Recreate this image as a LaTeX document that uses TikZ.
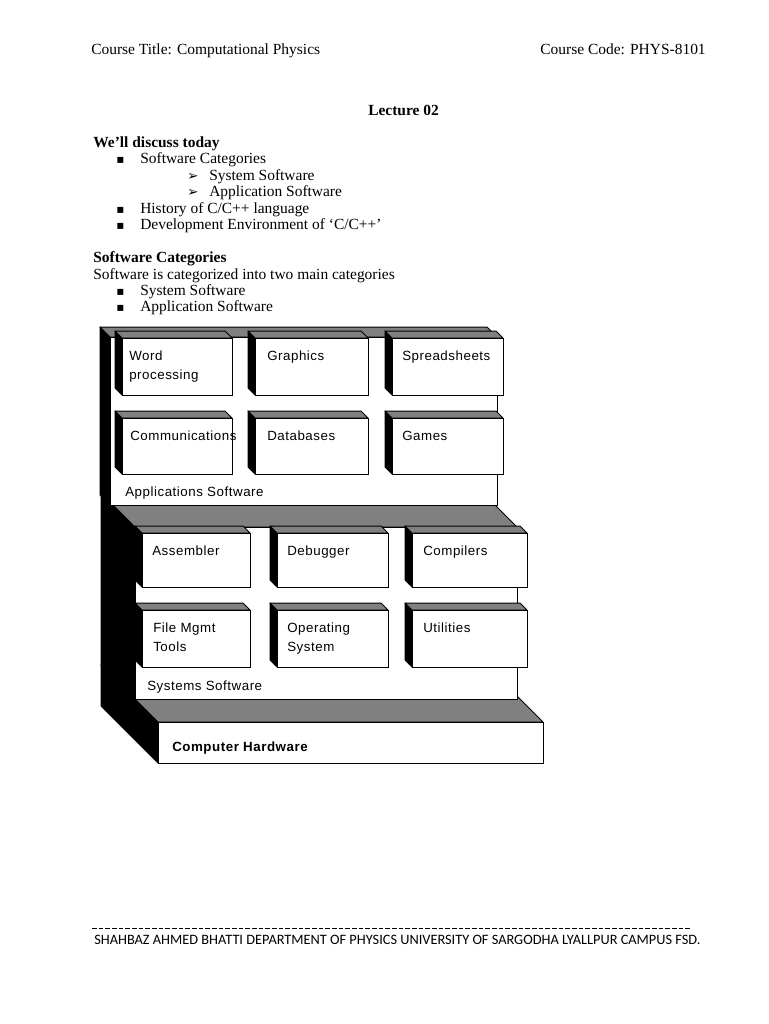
\documentclass[tikz,border=0pt]{standalone}
\usepackage{fontspec}
\setmainfont{Liberation Serif}
\newfontfamily\diagfont{Liberation Sans}[LetterSpace=4]
\newfontfamily\footfont{Carlito}
\newfontfamily\symfont{DejaVu Sans}
\usetikzlibrary{positioning}
\tikzset{
  body/.style={anchor=base west,inner sep=0pt,font=\fontsize{11.6}{14}\selectfont},
  head/.style={body,font=\fontsize{11.6}{14}\selectfont\bfseries},
  sqbul/.style={anchor=base west,inner sep=0pt,font=\symfont\fontsize{9}{9}\selectfont},
  arbul/.style={anchor=base west,inner sep=0pt,font=\symfont\fontsize{10}{10}\selectfont},
  sideface/.style={fill=black,draw=black,line width=0.75pt,line join=round},
  topface/.style={fill=black!50,draw=black,line width=0.75pt,line join=round},
  frontface/.style={fill=white,draw=black,line width=0.75pt},
  boxlbl/.style={anchor=north west,inner sep=0pt,align=left,
    font=\diagfont\fontsize{10}{14}\selectfont},
  layerlbl/.style={anchor=west,inner sep=0pt,font=\diagfont\fontsize{10}{12}\selectfont},
  footln/.style={line width=0.6pt,dash pattern=on 3.5pt off 1.5pt},
}
% 3d block: front face (#1,#2)-(#3,#4), depth #5 towards the upper left
\newcommand{\layerbox}[5]{%
  \filldraw[sideface] (#1,#2) -- (#1,#4) -- ({#1-#5},{#4-#5}) -- ({#1-#5},{#2-#5}) -- cycle;
  \filldraw[topface] (#1,#2) -- (#3,#2) -- ({#3-#5},{#2-#5}) -- ({#1-#5},{#2-#5}) -- cycle;
  \filldraw[frontface] (#1,#2) rectangle (#3,#4);
}

\begin{document}
\begin{tikzpicture}[x=0.75pt,y=-0.75pt]
  \useasboundingbox (0,0) rectangle (768,1024);
  % page header
  \node[body] (ctitle) at (91,54.5) {Course Title: Computational Physics};
  \node[body,anchor=base east] (ccode) at (706,54.5) {Course Code: PHYS-8101};
  \node[head] (lect) at (368,115) {Lecture 02};
  % outline of the lecture
  \node[head] (today) at (93,147.5) {We’ll discuss today};
  \node[sqbul] (b1) at (116,163.5) {▪};
  \node[body] (t1) at (140,163.5) {Software Categories};
  \node[arbul] (a1) at (187,180) {➢};
  \node[body] (t2) at (209,180) {System Software};
  \node[arbul] (a2) at (187,196.5) {➢};
  \node[body] (t3) at (209,196.5) {Application Software};
  \node[sqbul] (b2) at (116,213) {▪};
  \node[body] (t4) at (140,213) {History of C/C++ language};
  \node[sqbul] (b3) at (116,229.5) {▪};
  \node[body] (t5) at (140,229.5) {Development Environment of ‘C/C++’};
  % categories
  \node[head] (cats) at (93,262.5) {Software Categories};
  \node[body] (intro) at (93,279) {Software is categorized into two main categories};
  \node[sqbul] (b4) at (116,295) {▪};
  \node[body] (t6) at (140,295) {System Software};
  \node[sqbul] (b5) at (116,311) {▪};
  \node[body] (t7) at (140,311) {Application Software};

  % layered diagram, drawn back to front
  \layerbox{158}{722}{543}{763}{57}
  \layerbox{135}{527}{517}{699}{34}
  \foreach \x/\y/\w/\h/\o/\n/\t in {
      142/533/108/54/10/asm/Assembler, 277/533/111/54/10/dbg/Debugger,
      412/533/115/54/11/cmp/Compilers, 142/610/108/57/11/fmt/{File Mgmt\\Tools},
      277/610/111/57/10/os/{Operating\\System}, 412/610/115/57/11/utl/Utilities}{
    \layerbox{\x}{\y}{\x+\w}{\y+\h}{7}
    \node[boxlbl] (\n) at (\x+\o,\y+12.5) {\t};
  }
  \layerbox{110}{337}{497}{505}{10}
  \foreach \x/\y/\w/\h/\o/\n/\t in {
      122/338/110/57/7/wp/{Word\\processing}, 255/338/113/57/12/gfx/Graphics,
      392/338/111/57/10/ssh/Spreadsheets, 122/418/110/56/8/com/Communications,
      255/418/113/56/12/db/Databases, 392/418/111/56/10/gms/Games}{
    \layerbox{\x}{\y}{\x+\w}{\y+\h}{7}
    \node[boxlbl] (\n) at (\x+\o,\y+12.5) {\t};
  }
  \node[layerlbl] (appsw) at (125,493) {Applications Software};
  \node[layerlbl] (syssw) at (147,687) {Systems Software};
  \node[layerlbl,font=\diagfont\bfseries\fontsize{10}{12}\selectfont] (hw) at (172,748) {Computer Hardware};

  % page footer
  \coordinate (fl) at (92,928);
  \coordinate (fr) at (690,928);
  \draw[footln] (fl) -- (fr);
  \node[anchor=base west,inner sep=0pt,font=\footfont\fontsize{10.75}{12}\selectfont] (foot) at (94,944.5)
    {SHAHBAZ AHMED BHATTI DEPARTMENT OF PHYSICS UNIVERSITY OF SARGODHA LYALLPUR CAMPUS FSD.};
\end{tikzpicture}
\end{document}
